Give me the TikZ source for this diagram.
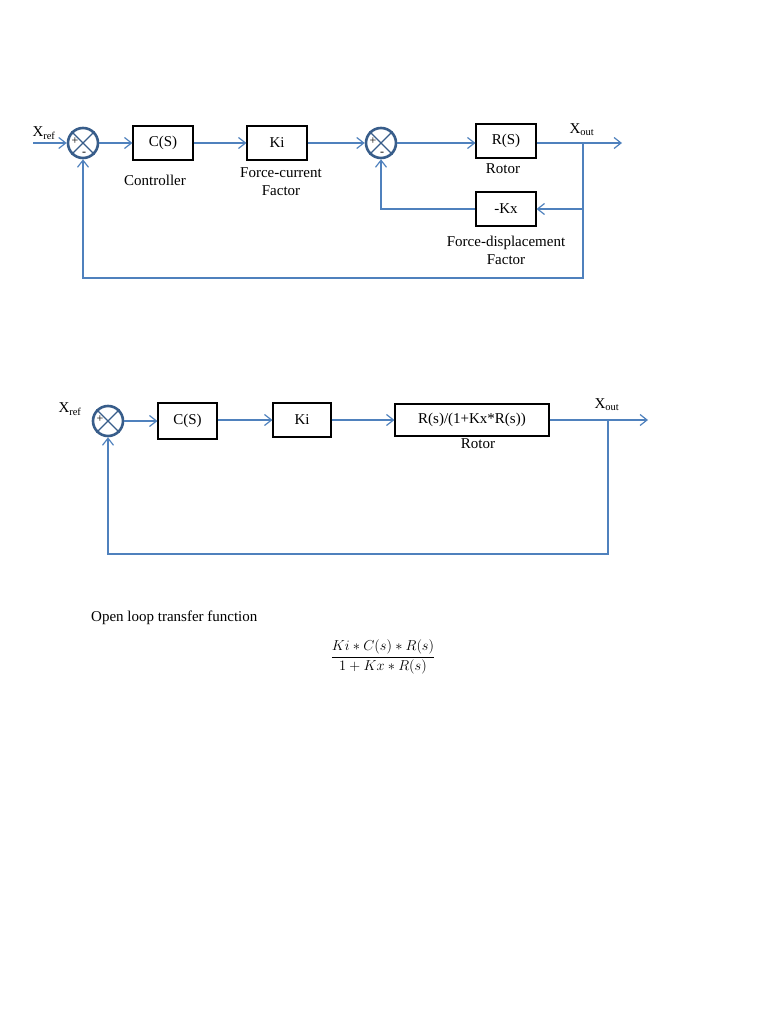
\documentclass[tikz,border=0pt]{standalone}
\usepackage{amsmath}
\usepackage{fontspec}
\setmainfont{Liberation Serif}
\usetikzlibrary{arrows.meta}
\definecolor{wire}{HTML}{4F81BD}
\definecolor{ring}{HTML}{385D8A}
\tikzset{
  wirel/.style={draw=wire, line width=1.2pt},
  arr/.style={wirel, -{Straight Barb[length=7pt,width=11pt,line width=1.2pt]}},
  blk/.style={draw=black, line width=1.1pt, inner sep=0pt, font=\fontsize{15}{15}\selectfont},
  sumj/.style={circle, draw=ring, line width=2.6pt, minimum size=30pt, inner sep=0pt},
  lbl/.style={inner sep=0pt, font=\fontsize{15}{18}\selectfont, align=center},
  sgn/.style={inner sep=0pt, font=\fontsize{12}{12}\selectfont}
}
\newcommand{\sumcross}[1]{%
  \draw[ring, line width=1.3pt] (#1.north west) -- (#1.south east) (#1.north east) -- (#1.south west);}
\begin{document}
\begin{tikzpicture}[x=1pt,y=-1pt]
\useasboundingbox (0,0) rectangle (768,1024);
% ---------- diagram 1 ----------
\node[sumj] (s1) at (83,143) {};
\sumcross{s1}
\node[sgn] (p1) at (75,141) {+};
\node[sgn] (m1) at (84,154) {-};
\node[blk, minimum width=60pt, minimum height=34pt] (cs1) at (163,143) {C(S)};
\node[blk, minimum width=60pt, minimum height=34pt] (ki1) at (277,143) {Ki};
\node[sumj] (s2) at (381,143) {};
\sumcross{s2}
\node[sgn] (p2) at (373,141) {+};
\node[sgn] (m2) at (382,154) {-};
\node[blk, minimum width=60pt, minimum height=34pt] (rs1) at (506,141) {R(S)};
\node[blk, minimum width=60pt, minimum height=34pt] (kx1) at (506,209) {-Kx};
\node[lbl] (xref1) at (44,133) {X\textsubscript{ref}};
\node[lbl] (xout1) at (582,130) {X\textsubscript{out}};
\node[lbl] (ctl) at (155,180) {Controller};
\node[lbl] (fcf) at (281,182) {Force-current\\Factor};
\node[lbl] (rot1) at (503,169) {Rotor};
\node[lbl] (fdf) at (506,250) {Force-displacement\\Factor};
\coordinate (in1) at (33,143);
\coordinate (out1) at (622,143);
\coordinate (br1) at (583,143);
\coordinate (bot1) at (583,278);
\draw[arr] (in1) -- (s1.west);
\draw[arr] (s1.east) -- (cs1.west);
\draw[arr] (cs1.east) -- (ki1.west);
\draw[arr] (ki1.east) -- (s2.west);
\draw[arr] (s2.east) -- (rs1.west |- s2.east);
\draw[arr] (rs1.east |- br1) -- (out1);
\draw[arr] (br1) |- (kx1.east);
\draw[arr] (kx1.west) -| (s2.south);
\draw[arr] (br1) -- (bot1) -| (s1.south);
% ---------- diagram 2 ----------
\node[sumj] (s3) at (108,421) {};
\sumcross{s3}
\node[sgn] (p3) at (100,419) {+};
\node[blk, minimum width=59pt, minimum height=36pt] (cs2) at (187.5,421) {C(S)};
\node[blk, minimum width=58pt, minimum height=34pt] (ki2) at (302,420) {Ki};
\node[blk, minimum width=154pt, minimum height=32pt] (big) at (472,420) {R(s)/(1+Kx*R(s))};
\node[lbl] (xref2) at (70,409) {X\textsubscript{ref}};
\node[lbl] (xout2) at (607,405) {X\textsubscript{out}};
\node[lbl] (rot2) at (478,444) {Rotor};
\coordinate (out2) at (648,420);
\coordinate (br2) at (608,420);
\coordinate (bot2) at (608,554);
\draw[arr] (s3.east) -- (cs2.west |- s3.east);
\draw[arr] (cs2.east |- ki2.west) -- (ki2.west);
\draw[arr] (ki2.east) -- (big.west);
\draw[arr] (big.east) -- (out2);
\draw[arr] (br2) -- (bot2) -| (s3.south);
% ---------- text ----------
\node[lbl, anchor=west] (olt) at (91,618) {Open loop transfer function};
\node[inner sep=0pt, font=\fontsize{15}{18}\selectfont] (frac) at (383,657) {$\dfrac{Ki \ast C(s) \ast R(s)}{1 + Kx \ast R(s)}$};
\end{tikzpicture}
\end{document}
